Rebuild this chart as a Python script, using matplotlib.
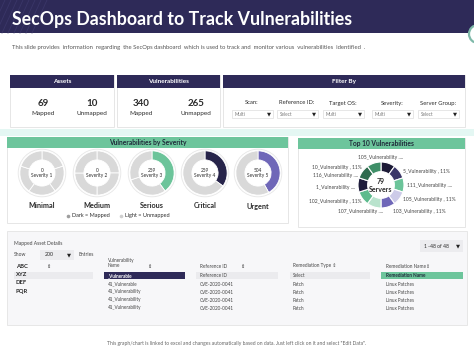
import matplotlib
matplotlib.use("Agg")
import matplotlib.pyplot as plt
from matplotlib.patches import Rectangle, Circle

plt.rcParams['font.family'] = ['Lato', 'DejaVu Sans']

W, H = 474, 355

# ---- data ----
title = "SecOps Dashboard to Track Vulnerabilities"
subtitle = ("This slide provides  information  regarding  the SecOps dashboard  which is used to track and  monitor various  "
            "vulnerabilities  identified  .")
footer = 'This graph/chart is linked to excel and changes automatically based on data. Just left click on it and select "Edit Data".'

asset_values = [69, 10]
vuln_values = [340, 265]
count_labels = ["Mapped", "Unmapped"]

filter_names = ["Scan:", "Reference ID:", "Target OS:", "Severity:", "Server Group:"]
filter_values = ["Multi", "Select", "Multi", "Multi", "Select"]

severity_names = ["Minimal", "Medium", "Serious", "Critical", "Urgent"]
severity_counts = [0, 0, 259, 259, 504]
severity_ids = ["Severity 1", "Severity 2", "Severity 3", "Severity 4", "Severity 5"]
severity_mapped = [0, 0, 40, 35, 42]
severity_unmapped = [[20, 20, 20, 20, 20], [25, 25, 25, 25], [30, 30], [65], [58]]
severity_colors = ["#d9d9d9", "#d9d9d9", "#6cc49a", "#27244a", "#6f67b8"]

top10_labels = ["105_Vulnerability ....", "5_Vulnerability , 11%", "111_Vulnerability ....",
                "105_Vulnerability , 11%", "103_Vulnerability , 11%", "107_Vulnerability ....",
                "102_Vulnerability , 11%", "1_Vulnerability ....", "116_Vulnerability ....",
                "10_Vulnerability , 11%"]
top10_values = [10, 10, 10, 10, 10, 10, 10, 10, 10, 10]
top10_colors = ["#1c1a36", "#3b3768", "#6cc49a", "#cdcbe8", "#6f67b8",
                "#b9e3cd", "#5dbb8d", "#1f1d3c", "#2f6b4f", "#3f8f68"]
servers = 79

table_col1 = ["ABC", "XYZ", "DEF", "PQR"]
vuln_names = ["_Vulnerable", "41_Vulnerable", "41_Vulnerability", "41_Vulnerability", "41_Vulnerability"]
ref_ids = ["Reference ID", "CVE-2020-0041", "CVE-2020-0041", "CVE-2020-0041", "CVE-2020-0041"]
rem_types = ["Select", "Patch", "Patch", "Patch", "Patch"]
rem_names = ["Remediation Name", "Linux Patches", "Linux Patches", "Linux Patches", "Linux Patches"]

NAVY = "#2e2a58"
GREEN = "#6dc59c"
TXT = "#2b2b2b"
GRAY_TXT = "#777777"

fig = plt.figure(figsize=(W / 100, H / 100), dpi=100)
ax = fig.add_axes([0, 0, 1, 1])
ax.set_xlim(0, W)
ax.set_ylim(H, 0)
ax.axis("off")


def box(x0, y0, x1, y1, **kw):
    ax.add_patch(Rectangle((x0, y0), x1 - x0, y1 - y0, **kw))


# header band
box(0, 0, W, 33, facecolor=NAVY, edgecolor="none")
for k in range(8):
    ax.plot([-10 + k * 6, 5 + k * 6], [33, 0], color="#3a3668", lw=0.6, zorder=1)
ax.text(12, 19, title, color="white", fontsize=12.8, fontweight="bold", va="center", ha="left")
ax.add_patch(Circle((478, 34), 9, facecolor="white", edgecolor="#7fb9a9", lw=1.6, zorder=3))
ax.text(12, 47, subtitle, color="#555555", fontsize=4.2, va="center", ha="left")

# light band behind rows
box(0, 129, W, 136, facecolor="#e4f7f3", edgecolor="none")

# ---- row 1 panels ----
def panel(x0, y0, x1, y1, head, hcol, hy1, htxt_col="white", hfs=4.6):
    box(x0, y0, x1, y1, facecolor="white", edgecolor="#e2e2e2", lw=0.6, zorder=2)
    box(x0, y0, x1, hy1, facecolor=hcol, edgecolor="none", zorder=3)
    ax.text((x0 + x1) / 2, (y0 + hy1) / 2, head, color=htxt_col, fontsize=hfs,
            fontweight="bold", ha="center", va="center", zorder=4)


panel(10, 75, 114, 127, "Assets", NAVY, 88)
panel(117, 75, 220, 127, "Vulnerabilities", NAVY, 88)
panel(223, 75, 465, 127, "Filter By", NAVY, 88)

for vals, xs in [(asset_values, [43, 92]), (vuln_values, [141, 196])]:
    for v, lab, x in zip(vals, count_labels, xs):
        ax.text(x, 103, str(v), fontsize=7, fontweight="bold", color=TXT, ha="center", va="center", zorder=4)
        ax.text(x, 113, lab, fontsize=4.6, color=TXT, ha="center", va="center", zorder=4)

fx = [232, 277, 323, 372, 418]
for i, (name, val) in enumerate(zip(filter_names, filter_values)):
    x0 = fx[i]
    ax.text(x0 + 20, 103, name, fontsize=4.2, color=TXT, ha="center", va="center", zorder=4)
    box(x0, 110, x0 + 41, 118, facecolor="white", edgecolor="#dddddd", lw=0.5, zorder=4)
    ax.text(x0 + 3, 114, val, fontsize=3.3, color=GRAY_TXT, ha="left", va="center", zorder=5)
    ax.text(x0 + 37, 114, "\u25bc", fontsize=3.8, color="#222222", ha="center", va="center", zorder=5)

# ---- severity panel ----
panel(7, 137, 288, 223, "Vulnerabilities by Severity", GREEN, 148, htxt_col="#1f2a3a", hfs=4.8)
sev_x = [42, 97, 152, 205, 258]
cy, r = 173, 23
for i in range(5):
    cx = sev_x[i]
    dax = fig.add_axes([(cx - r - 2) / W, 1 - (cy + r + 2) / H, (2 * r + 4) / W, (2 * r + 4) / H])
    vals = [severity_mapped[i]] + severity_unmapped[i]
    cols = [severity_colors[i]] + ["#d9d9d9"] * len(severity_unmapped[i])
    if severity_mapped[i] == 0:
        vals, cols = severity_unmapped[i], ["#d9d9d9"] * len(severity_unmapped[i])
    dax.add_patch(Circle((0, 0), 1.0, facecolor="white", edgecolor="#e6e6e6", lw=0.6, zorder=0))
    dax.pie(vals, colors=cols, startangle=90, counterclock=False, radius=0.93,
            wedgeprops=dict(width=0.38, edgecolor="white", linewidth=0.6))
    dax.set_xlim(-1.05, 1.05)
    dax.set_ylim(-1.05, 1.05)
    dax.text(0, 0.12, str(severity_counts[i]), fontsize=3.4, ha="center", va="center", color=TXT)
    dax.text(0, -0.12, severity_ids[i], fontsize=3.4, ha="center", va="center", color=TXT)
    ax.text(cx, 206, severity_names[i], fontsize=5.2, fontweight="bold", color=TXT, ha="center", va="center", zorder=4)

ax.plot([68], [216], "o", color="#9e9e9e", ms=1.6, zorder=4)
ax.text(72, 216, "Dark = Mapped", fontsize=4, color=TXT, ha="left", va="center", zorder=4)
ax.plot([121], [216], "o", color="#cfcfcf", ms=1.6, zorder=4)
ax.text(125, 216, "Light = Unmapped", fontsize=4, color=TXT, ha="left", va="center", zorder=4)

# ---- top 10 panel ----
panel(298, 138, 465, 227, "Top 10 Vulnerabilities", GREEN, 149, htxt_col="#1f2a3a", hfs=4.8)
tcx, tcy, tr = 381, 185, 23
tax = fig.add_axes([(tcx - tr) / W, 1 - (tcy + tr) / H, 2 * tr / W, 2 * tr / H])
tax.pie(top10_values, colors=top10_colors, startangle=90, counterclock=False, radius=1.0,
        wedgeprops=dict(width=0.42, edgecolor="white", linewidth=0.8))
tax.set_xlim(-1, 1)
tax.set_ylim(-1, 1)
tax.text(0, 0.16, str(servers), fontsize=5, fontweight="bold", ha="center", va="center", color=TXT)
tax.text(0, -0.18, "Servers", fontsize=5, fontweight="bold", ha="center", va="center", color=TXT)

lab_pos = [(381, 158, "center"), (403, 172, "left"), (407, 186, "left"), (403, 199, "left"),
           (393, 211, "left"), (361, 211, "center"), (362, 201, "right"), (355, 187, "right"),
           (358, 176, "right"), (362, 168, "right")]
for lab, (lx, ly, ha) in zip(top10_labels, lab_pos):
    ax.text(lx, ly, lab, fontsize=3.6, color="#444444", ha=ha, va="center", zorder=4)

# ---- table panel ----
box(7, 231, 467, 325, facecolor="#f7f7f9", edgecolor="#e4e4e4", lw=0.6, zorder=2)
ax.text(14, 243, "Mapped Asset Details", fontsize=3.6, color="#444444", ha="left", va="center", zorder=4)
ax.text(14, 255, "Show", fontsize=3.6, color="#444444", ha="left", va="center", zorder=4)
box(40, 250, 74, 260, facecolor="#ececef", edgecolor="none", zorder=3)
ax.text(45, 255, "200", fontsize=3.8, color=TXT, ha="left", va="center", zorder=4)
ax.text(69, 255, "\u25bc", fontsize=3.8, color="#222222", ha="center", va="center", zorder=4)
ax.text(79, 255, "Entries", fontsize=3.6, color="#444444", ha="left", va="center", zorder=4)

box(420, 240, 463, 252, facecolor="#ececef", edgecolor="none", zorder=3)
ax.text(424, 246, "1 -48 of 48", fontsize=3.6, color=TXT, ha="left", va="center", zorder=4)
ax.text(458, 246, "\u25bc", fontsize=3.8, color="#222222", ha="center", va="center", zorder=4)

# first column
rows_y = [267, 275, 283, 292]
box(14, 272, 93, 279, facecolor="#ebebee", edgecolor="none", zorder=3)
for lab, y in zip(table_col1, rows_y):
    ax.text(16, y, lab, fontsize=4.2, fontweight="bold", color=TXT, ha="left", va="center", zorder=4)
ax.text(49, 267, "\u21d5", fontsize=3.6, color=TXT, ha="center", va="center", zorder=4)

# headers
hy = 266
ax.text(108, 263, "Vulnerability\nName", fontsize=3.4, color="#444444", ha="left", va="center",
        linespacing=1.1, zorder=4)
ax.text(150, hy, "\u21d5", fontsize=3.6, color=TXT, ha="center", va="center", zorder=4)
ax.text(200, hy, "Reference ID", fontsize=3.4, color="#444444", ha="left", va="center", zorder=4)
ax.text(243, hy, "\u21d5", fontsize=3.6, color=TXT, ha="center", va="center", zorder=4)
ax.text(293, hy, "Remediation Type \u21d5", fontsize=3.4, color="#444444", ha="left", va="center", zorder=4)
ax.text(386, hy, "Remediation Name\u21d5", fontsize=3.4, color="#444444", ha="left", va="center", zorder=4)

# highlighted first row
box(104, 272, 185, 279, facecolor=NAVY, edgecolor="none", zorder=3)
box(196, 272, 278, 279, facecolor="#ebebee", edgecolor="none", zorder=3)
box(290, 272, 370, 279, facecolor="#ebebee", edgecolor="none", zorder=3)
box(381, 272, 463, 279, facecolor=GREEN, edgecolor="none", zorder=3)

data_y = [275.5, 284, 292, 300, 308]
for j, y in enumerate(data_y):
    first = j == 0
    ax.text(108, y, vuln_names[j], fontsize=3.3, color="white" if first else "#444444",
            fontweight="bold" if first else "normal", ha="left", va="center", zorder=4)
    ax.text(200, y, ref_ids[j], fontsize=3.3, color="#444444", ha="left", va="center", zorder=4)
    ax.text(293, y, rem_types[j], fontsize=3.3, color="#444444", ha="left", va="center", zorder=4)
    ax.text(386, y, rem_names[j], fontsize=3.3, color="#1f2a3a" if first else "#444444",
            fontweight="bold" if first else "normal", ha="left", va="center", zorder=4)

ax.text(237, 344, footer, fontsize=3.6, color="#666666", ha="center", va="center")

fig.savefig("out.png", dpi=100)
